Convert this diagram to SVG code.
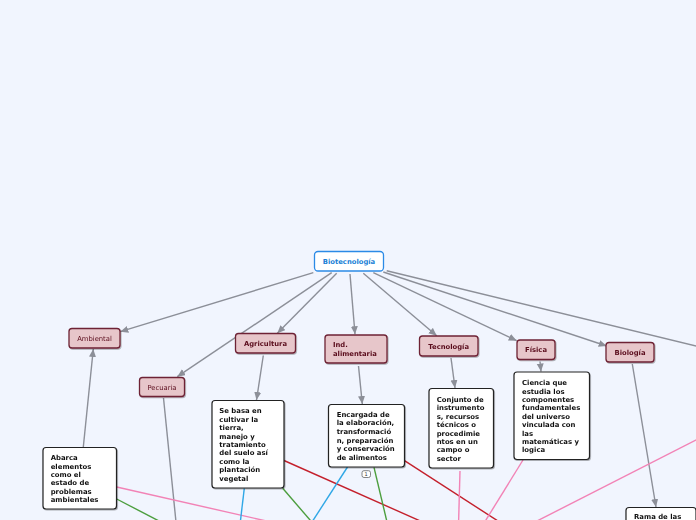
<svg xmlns="http://www.w3.org/2000/svg" width="696" height="520" viewBox="0 0 696 520">
<defs>
<marker id="arr" markerUnits="userSpaceOnUse" markerWidth="9" markerHeight="8" refX="8" refY="3.5" orient="auto"><path d="M0,0 L8,3.5 L0,7 Z" fill="#8c8f98"/></marker>
<filter id="sh" x="-10%" y="-10%" width="130%" height="130%"><feDropShadow dx="0.8" dy="1" stdDeviation="0.6" flood-color="#000" flood-opacity="0.3"/></filter>
<style>
.g{stroke:#8c8f98;stroke-width:1.4;fill:none}
.a{marker-end:url(#arr)}
.pk{stroke:#f283b6;stroke-width:1.4;fill:none}
.gr{stroke:#4c9e3e;stroke-width:1.4;fill:none}
.bl{stroke:#2fa7e6;stroke-width:1.4;fill:none}
.rd{stroke:#c4202c;stroke-width:1.4;fill:none}
.cat rect{fill:#e7c6ca;stroke:#6e2234;stroke-width:1.3}
.cat text{font-family:"DejaVu Sans",Verdana,sans-serif;font-size:6.8px;fill:#5a0c1c}
.b{font-weight:bold}
.box rect{fill:#fff;stroke:#222;stroke-width:1.2}
.box text{font-family:"DejaVu Sans",Verdana,sans-serif;font-size:6.9px;font-weight:bold;fill:#111}
</style>
</defs>
<rect width="696" height="520" fill="#f1f5fe"/>
<g id="connectors">
<path class="g a" d="M313.3,272.7 L120.3,331.7"/>
<path class="g a" d="M331.7,272.7 L177.3,376.7"/>
<path class="g a" d="M336.7,273.3 L277.3,333.3"/>
<path class="g a" d="M350,274 L355,334.3"/>
<path class="g a" d="M363.3,273.3 L436.7,335.7"/>
<path class="g a" d="M373.3,272.7 L516.7,340.7"/>
<path class="g a" d="M383.3,272 L606.7,346"/>
<path class="g" d="M386.7,270.7 L700,347"/>
<path class="g a" d="M83.3,447 L93.3,349"/>
<path class="g a" d="M263.3,355.5 L256.5,400"/>
<path class="g" d="M163.5,398 L176,522"/>
<path class="g a" d="M358.5,366 L362.3,404"/>
<path class="g a" d="M451,358 L455,388"/>
<path class="g a" d="M540,361.5 L541,371.5"/>
<path class="g a" d="M632.3,364 L656,507"/>
<path class="pk" d="M116.7,487 L270,521.8"/>
<path class="gr" d="M116.7,499 L160,521.5"/>
<path class="rd" d="M284,460.5 L430,525.3"/>
<path class="gr" d="M282.7,488.3 L314,524.6"/>
<path class="bl" d="M244.3,488.3 L240.3,522"/>
<path class="bl" d="M347.5,467 L312,522"/>
<path class="gr" d="M374,467.3 L387,522"/>
<path class="rd" d="M404.5,460.7 L500,522.3"/>
<path class="pk" d="M460,471 L458.6,522"/>
<path class="pk" d="M523,460 L484.7,522"/>
<path class="pk" d="M700,438 L535,522"/>
</g>
<g id="root">
<rect x="314.5" y="251.5" width="69" height="19.5" rx="3.5" fill="#fff" stroke="#2b8ae6" stroke-width="1.3"/>
<text x="349" y="263.7" text-anchor="middle" font-family="'DejaVu Sans',Verdana,sans-serif" font-size="6.8" font-weight="bold" fill="#1a7fd6">Biotecnología</text>
</g>
<g id="ambiental" class="cat" filter="url(#sh)">
<rect x="69" y="328.5" width="51" height="19.5" rx="3"/>
<text x="94.5" y="341" text-anchor="middle">Ambiental</text>
</g>
<g id="agricultura" class="cat" filter="url(#sh)">
<rect x="235.5" y="333.5" width="60" height="19.5" rx="3"/>
<text class="b" x="265.5" y="346" text-anchor="middle">Agricultura</text>
</g>
<g id="pecuaria" class="cat" filter="url(#sh)">
<rect x="139.5" y="377.5" width="45" height="19" rx="3"/>
<text x="162" y="389.8" text-anchor="middle">Pecuaria</text>
</g>
<g id="ind-alimentaria" class="cat" filter="url(#sh)">
<rect x="325" y="335" width="62" height="28" rx="3"/>
<text class="b" x="333" y="346.7">Ind.</text>
<text class="b" x="333" y="355.7">alimentaria</text>
</g>
<g id="tecnologia" class="cat" filter="url(#sh)">
<rect x="419.5" y="336" width="58.5" height="20" rx="3"/>
<text class="b" x="448.7" y="348.5" text-anchor="middle">Tecnología</text>
</g>
<g id="fisica" class="cat" filter="url(#sh)">
<rect x="517" y="340" width="38" height="19.5" rx="3"/>
<text class="b" x="536" y="352.2" text-anchor="middle">Física</text>
</g>
<g id="biologia" class="cat" filter="url(#sh)">
<rect x="606" y="342.5" width="48" height="19.5" rx="3"/>
<text class="b" x="630" y="354.7" text-anchor="middle">Biología</text>
</g>
<g id="abarca" class="box" filter="url(#sh)">
<rect x="43" y="447.5" width="73.5" height="61.5" rx="3"/>
<text x="50.7" y="460.2">Abarca</text>
<text x="50.7" y="468.5">elementos</text>
<text x="50.7" y="476.9">como el</text>
<text x="50.7" y="485.2">estado de</text>
<text x="50.7" y="493.5">problemas</text>
<text x="50.7" y="501.8">ambientales</text>
</g>
<g id="se-basa" class="box" filter="url(#sh)">
<rect x="212" y="400.5" width="72" height="87.5" rx="3"/>
<text x="219.3" y="413.2">Se basa en</text>
<text x="219.3" y="421.6">cultivar la</text>
<text x="219.3" y="430.1">tierra,</text>
<text x="219.3" y="438.5">manejo y</text>
<text x="219.3" y="447">tratamiento</text>
<text x="219.3" y="455.4">del suelo así</text>
<text x="219.3" y="463.9">como la</text>
<text x="219.3" y="472.3">plantación</text>
<text x="219.3" y="480.8">vegetal</text>
</g>
<g id="encargada" class="box" filter="url(#sh)">
<rect x="328.5" y="404.5" width="76" height="62.5" rx="3"/>
<text x="336.7" y="416.8">Encargada de</text>
<text x="336.7" y="425.4">la elaboración,</text>
<text x="336.7" y="434">transformació</text>
<text x="336.7" y="442.6">n, preparación</text>
<text x="336.7" y="451.2">y conservación</text>
<text x="336.7" y="459.8">de alimentos</text>
</g>
<g id="badge">
<rect x="362" y="470.7" width="8.5" height="6.8" rx="2" fill="#fff" stroke="#666" stroke-width="0.8"/>
<text x="366.2" y="476.3" text-anchor="middle" font-family="'DejaVu Sans',sans-serif" font-size="5" fill="#333">1</text>
</g>
<g id="conjunto" class="box" filter="url(#sh)">
<rect x="429" y="388.5" width="64.5" height="79.5" rx="3"/>
<text x="436.7" y="401.8">Conjunto de</text>
<text x="436.7" y="410.2">instrumento</text>
<text x="436.7" y="418.7">s, recursos</text>
<text x="436.7" y="427.1">técnicos o</text>
<text x="436.7" y="435.5">procedimie</text>
<text x="436.7" y="444">ntos en un</text>
<text x="436.7" y="452.4">campo o</text>
<text x="436.7" y="460.8">sector</text>
</g>
<g id="ciencia" class="box" filter="url(#sh)">
<rect x="514" y="372" width="75.5" height="87.5" rx="3"/>
<text x="522" y="385.2">Ciencia que</text>
<text x="522" y="393.6">estudia los</text>
<text x="522" y="402">componentes</text>
<text x="522" y="410.4">fundamentales</text>
<text x="522" y="418.8">del universo</text>
<text x="522" y="427.2">vinculada con</text>
<text x="522" y="435.6">las</text>
<text x="522" y="444">matemáticas y</text>
<text x="522" y="452.4">logica</text>
</g>
<g id="rama" class="box" filter="url(#sh)">
<rect x="626" y="507.5" width="70" height="30" rx="3"/>
<text x="634" y="519.3">Rama de las</text>
</g>
</svg>
